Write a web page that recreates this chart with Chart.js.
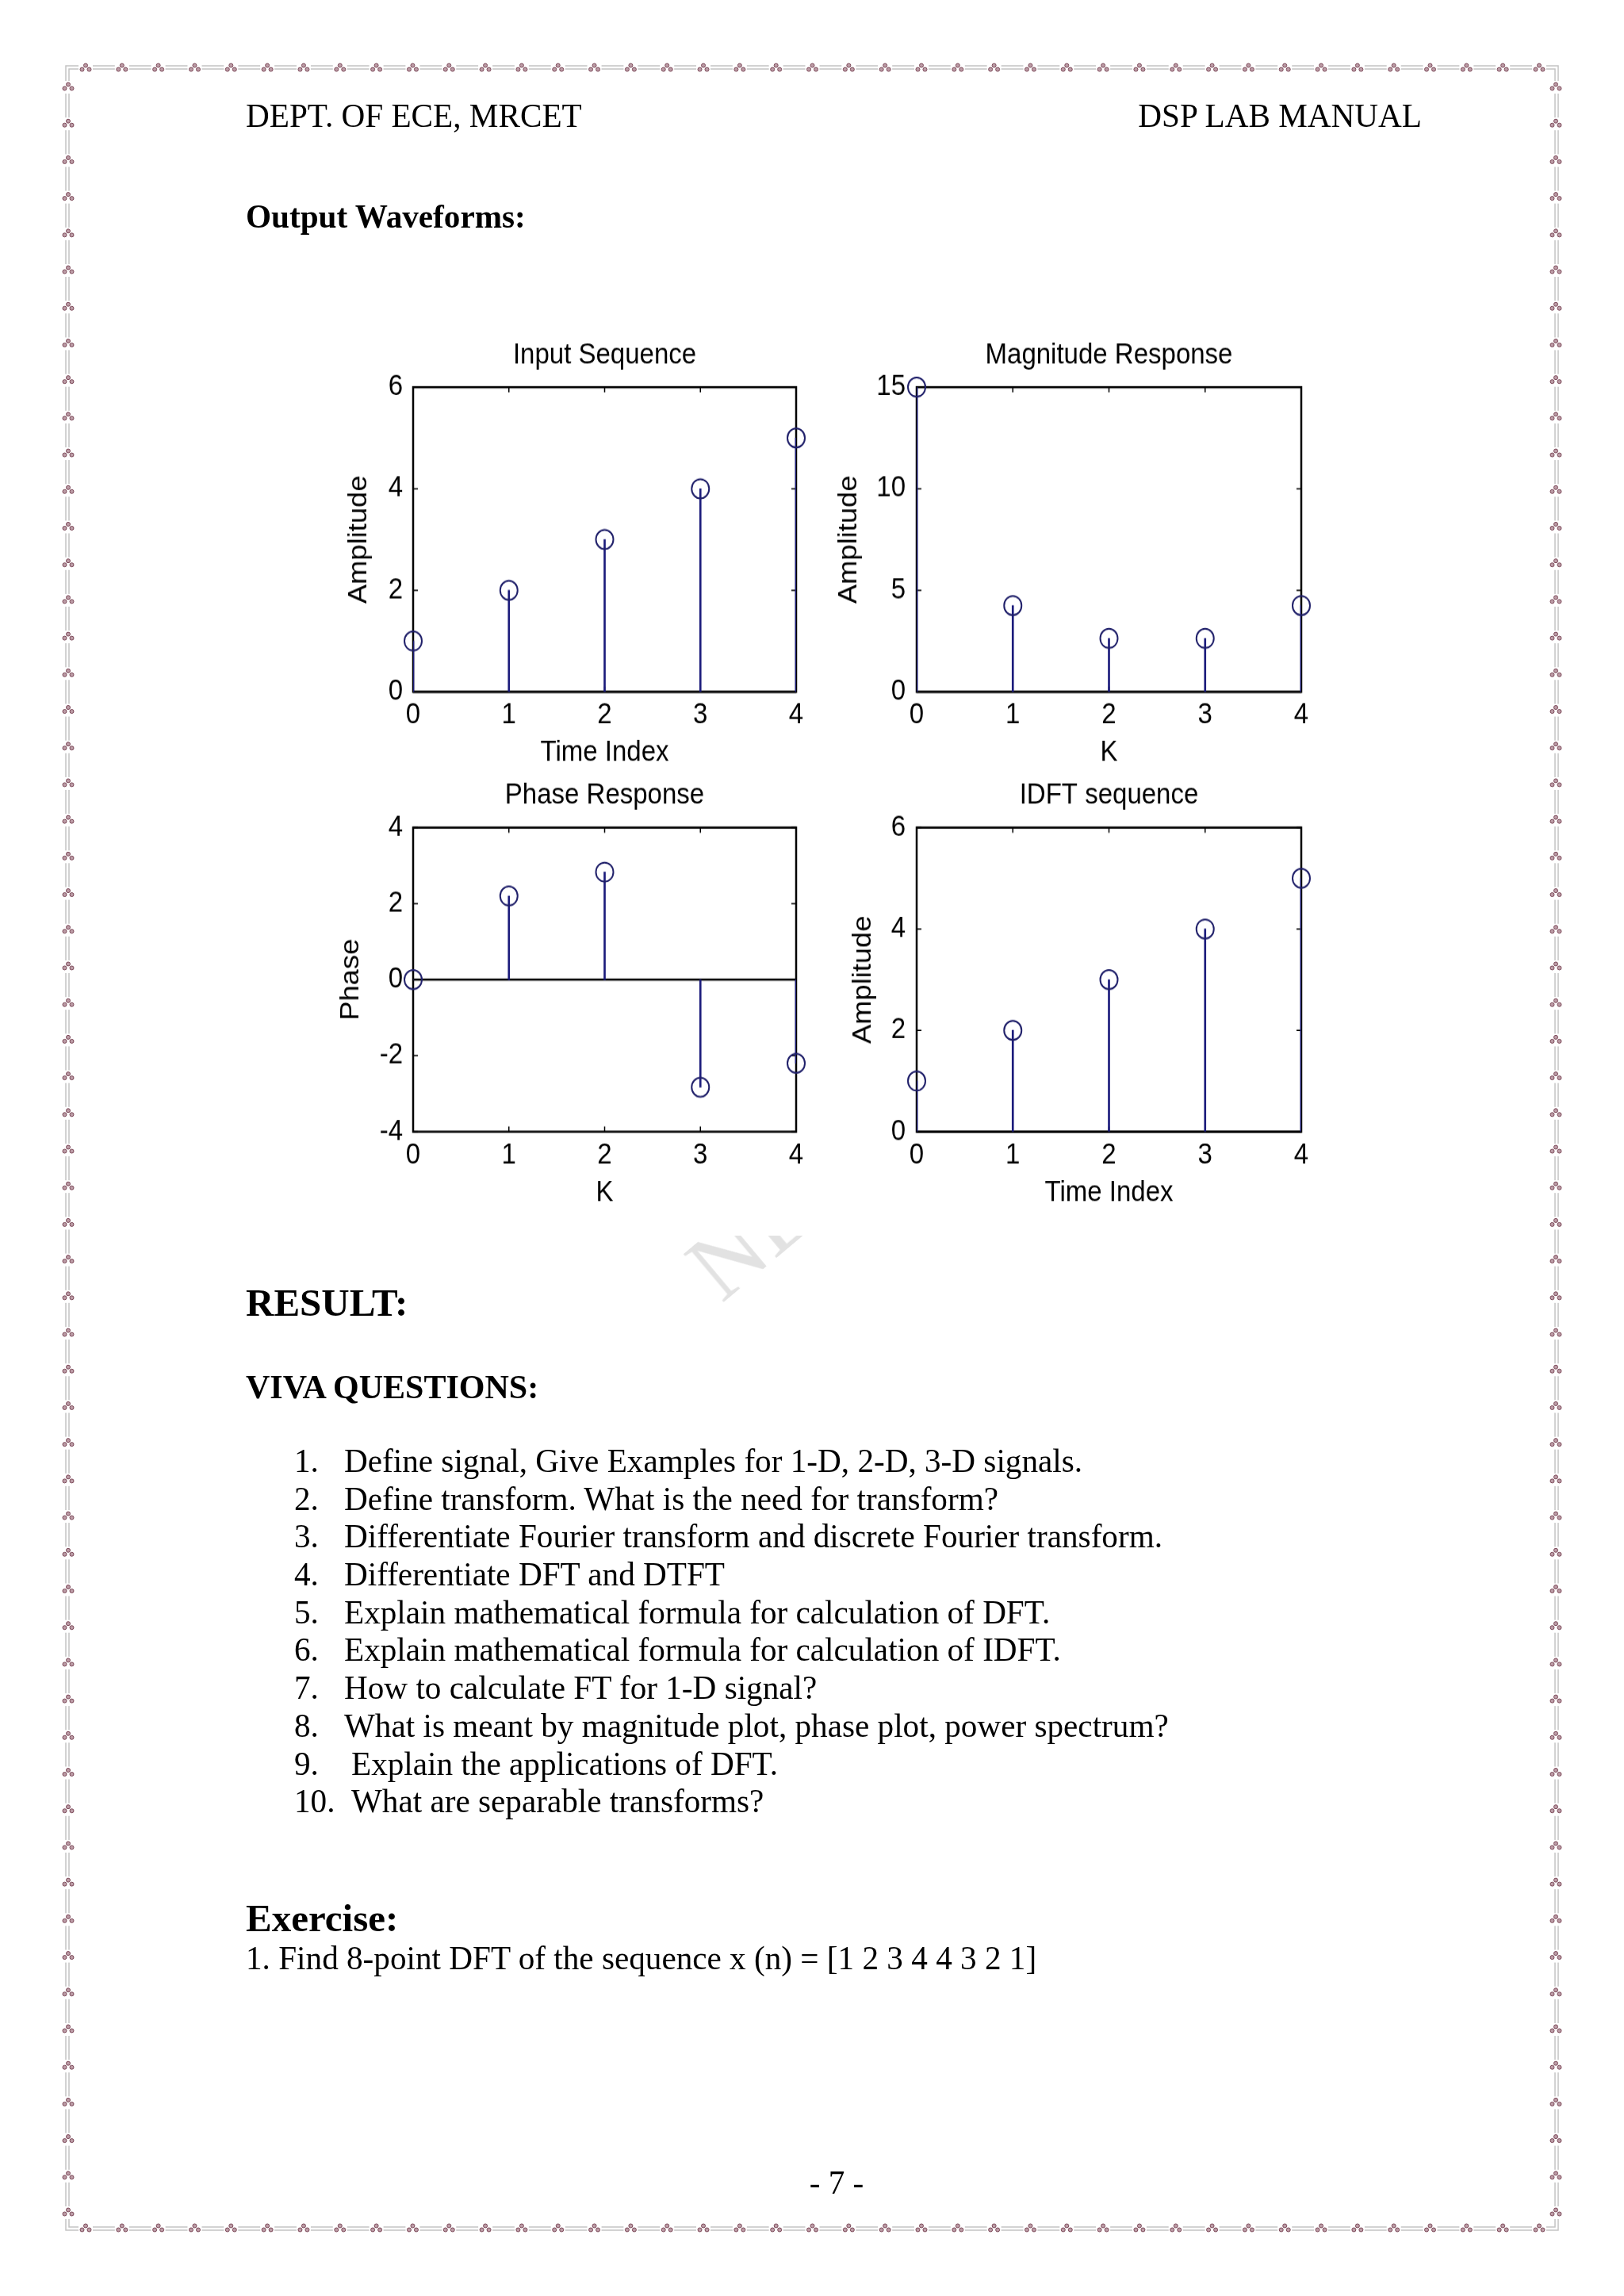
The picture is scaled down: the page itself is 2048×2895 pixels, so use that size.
<!DOCTYPE html>
<html>
<head>
<meta charset="utf-8">
<title>DSP LAB MANUAL - 7</title>
<script src="https://cdn.jsdelivr.net/npm/chart.js@4.4.1/dist/chart.umd.min.js"></script>
<style>
html, body { margin: 0; padding: 0; background: #fff; }
body { width: 2048px; height: 2895px; position: relative; overflow: hidden;
	font-family: 'Liberation Serif', 'Times New Roman', serif; color: #000; }
#border { position: absolute; left: 0; top: 0; z-index: 0; }
.txt { position: absolute; white-space: pre; font-size: 41.2px; line-height: 48px; z-index: 3; }
.b { font-weight: bold; }
.big { font-size: 49px; line-height: 56px; font-weight: bold; }
#wm { position: absolute; left: 910px; top: 1544px; font-size: 120px; line-height: 120px;
	color: #e2e2e2; white-space: pre; transform-origin: 0 100px; transform: rotate(-40deg); z-index: 1; }
#figure { position: absolute; left: 400px; top: 400px; width: 1290px; height: 1158px; background: #fff; z-index: 2; }
#figure canvas { position: absolute; }
#viva { position: absolute; left: 0; top: 1819px; width: 2048px; z-index: 3; }
#viva div { position: relative; height: 47.7px; line-height: 47.7px; font-size: 41.2px; white-space: pre; }
#viva span { position: absolute; }
</style>
</head>
<body>
<canvas id="border" width="2048" height="2895"></canvas>

<div class="txt" style="left:310px; top:122px;">DEPT. OF ECE, MRCET</div>
<div class="txt" style="right:255px; top:122px;">DSP LAB MANUAL</div>
<div class="txt b" style="left:310px; top:249px;">Output Waveforms:</div>

<div id="wm">NE</div>

<!-- 그림은 세로로 1.1배 늘어난 matlab 캡처라서 canvas를 css로 늘림 -->
<div id="figure">
	<canvas id="stem-input" width="640" height="525" style="left:0; top:0; width:640px; height:577.5px;"></canvas>
	<canvas id="stem-magnitude" width="640" height="525" style="left:640px; top:0; width:640px; height:577.5px;"></canvas>
	<canvas id="stem-phase" width="640" height="505" style="left:0; top:577.5px; width:640px; height:555.5px;"></canvas>
	<canvas id="stem-idft" width="640" height="505" style="left:640px; top:577.5px; width:640px; height:555.5px;"></canvas>
</div>

<div class="txt big" style="left:310px; top:1615px;">RESULT:</div>
<div class="txt b" style="left:310px; top:1725px; font-size:42px;">VIVA QUESTIONS:</div>

<div id="viva">
	<div><span style="left:371px">1.</span><span style="left:434px">Define signal, Give Examples for 1-D, 2-D, 3-D signals.</span></div>
	<div><span style="left:371px">2.</span><span style="left:434px">Define transform. What is the need for transform?</span></div>
	<div><span style="left:371px">3.</span><span style="left:434px">Differentiate Fourier transform and discrete Fourier transform.</span></div>
	<div><span style="left:371px">4.</span><span style="left:434px">Differentiate DFT and DTFT</span></div>
	<div><span style="left:371px">5.</span><span style="left:434px">Explain mathematical formula for calculation of DFT.</span></div>
	<div><span style="left:371px">6.</span><span style="left:434px">Explain mathematical formula for calculation of IDFT.</span></div>
	<div><span style="left:371px">7.</span><span style="left:434px">How to calculate FT for 1-D signal?</span></div>
	<div><span style="left:371px">8.</span><span style="left:434px">What is meant by magnitude plot, phase plot, power spectrum?</span></div>
	<div><span style="left:371px">9.</span><span style="left:443px">Explain the applications of DFT.</span></div>
	<div><span style="left:371px">10.</span><span style="left:443px">What are separable transforms?</span></div>
</div>

<div class="txt big" style="left:310px; top:2391px;">Exercise:</div>
<div class="txt" style="left:310px; top:2445px;">1. Find 8-point DFT of the sequence x (n) = [1 2 3 4 4 3 2 1]</div>
<div class="txt" style="left:955px; top:2728px; width:200px; text-align:center;">- 7 -</div>

<script>
// 데이터 (x = [1 2 3 4 5], N = 5)
var sampleIndex = ['0', '1', '2', '3', '4'];
var inputSeq = [1, 2, 3, 4, 5];
var magnitude = [15, 4.25, 2.63, 2.63, 4.25];
var phase = [0, 2.2, 2.83, -2.83, -2.2];
var idftSeq = [1, 2, 3, 4, 5];

var inputTicks = [0, 2, 4, 6];
var magTicks = [0, 5, 10, 15];
var phaseTicks = [-4, -2, 0, 2, 4];
var idftTicks = [0, 2, 4, 6];

var stemColor = '#1c1c7c';
var markColor = '#20206a';

Chart.defaults.font.family = "'Liberation Sans', Arial, sans-serif";
Chart.defaults.color = '#000';

// matlab 느낌의 박스 + 안쪽 눈금 + 기준선
var boxPlugin = {
	id: 'matlabBox',
	beforeDatasetsDraw: function(chart) {
		var ctx = chart.ctx, a = chart.chartArea;
		var xs = chart.scales.x, ys = chart.scales.y;
		ctx.save();
		ctx.strokeStyle = '#000';
		ctx.lineWidth = 2.5;
		ctx.strokeRect(a.left, a.top, a.right - a.left, a.bottom - a.top);
		var y0 = ys.getPixelForValue(0);
		ctx.beginPath();
		ctx.moveTo(a.left, y0);
		ctx.lineTo(a.right, y0);
		ctx.stroke();
		ctx.lineWidth = 1.5;
		ctx.beginPath();
		xs.ticks.forEach(function(t, i) {
			var px = xs.getPixelForTick(i);
			ctx.moveTo(px, a.bottom); ctx.lineTo(px, a.bottom - 6);
			ctx.moveTo(px, a.top); ctx.lineTo(px, a.top + 6);
		});
		ys.ticks.forEach(function(t, i) {
			var py = ys.getPixelForTick(i);
			ctx.moveTo(a.left, py); ctx.lineTo(a.left + 6, py);
			ctx.moveTo(a.right, py); ctx.lineTo(a.right - 6, py);
		});
		ctx.stroke();
		ctx.restore();
	}
};

function stemChart(id, o) {
	return new Chart(document.getElementById(id), {
		type: 'bar',
		data: {
			labels: sampleIndex,
			datasets: [{
				type: 'line',
				data: o.values,
				showLine: false,
				pointStyle: 'circle',
				pointRadius: 11,
				pointBorderWidth: 2,
				pointBorderColor: markColor,
				pointBackgroundColor: 'rgba(0,0,0,0)',
				clip: false,
				order: 0
			}, {
				type: 'bar',
				data: o.values,
				backgroundColor: stemColor,
				barThickness: 2,
				order: 1
			}]
		},
		options: {
			responsive: false,
			animation: false,
			events: [],
			layout: { padding: { left: 0, right: o.padRight, top: 0, bottom: 0 } },
			plugins: {
				legend: { display: false },
				tooltip: { enabled: false },
				title: {
					display: true,
					fullSize: false,
					text: o.title,
					color: '#000',
					font: { size: 33, weight: 'normal' },
					padding: { top: o.tTop, bottom: o.tBottom }
				}
			},
			scales: {
				x: {
					type: 'category',
					offset: false,
					grid: { display: false, drawTicks: false },
					border: { display: false },
					ticks: { font: { size: 33 }, padding: o.xTickPad, maxRotation: 0, autoSkip: false },
					title: { display: true, text: o.xTitle, font: { size: 33 }, padding: { top: 0, bottom: o.xTitlePad } },
					afterFit: function(s) { s.height = o.xHeight; }
				},
				y: {
					min: o.ticks[0],
					max: o.ticks[o.ticks.length - 1],
					grid: { display: false, drawTicks: false },
					border: { display: false },
					ticks: { stepSize: o.ticks[1] - o.ticks[0], font: { size: 33 }, padding: o.yTickPad },
					title: { display: true, text: o.yTitle, font: { size: 33 }, padding: { top: o.yTitlePad, bottom: 0 } },
					afterFit: function(s) { s.width = o.yWidth; }
				}
			}
		},
		plugins: [boxPlugin]
	});
}

stemChart('stem-input', {
	values: inputSeq, ticks: inputTicks, title: 'Input Sequence', xTitle: 'Time Index', yTitle: 'Amplitude',
	padRight: 36, yWidth: 121, xHeight: 96, tTop: 24, tBottom: 16.5,
	xTickPad: 7.5, xTitlePad: 6, yTickPad: 13, yTitlePad: 33
});
stemChart('stem-magnitude', {
	values: magnitude, ticks: magTicks, title: 'Magnitude Response', xTitle: 'K', yTitle: 'Amplitude',
	padRight: 39, yWidth: 116, xHeight: 96, tTop: 24, tBottom: 16.5,
	xTickPad: 7.5, xTitlePad: 6, yTickPad: 14, yTitlePad: 11
});
stemChart('stem-phase', {
	values: phase, ticks: phaseTicks, title: 'Phase Response', xTitle: 'K', yTitle: 'Phase',
	padRight: 36, yWidth: 121, xHeight: 96.5, tTop: 3, tBottom: 17,
	xTickPad: 8, xTitlePad: 6.5, yTickPad: 13, yTitlePad: 23
});
stemChart('stem-idft', {
	values: idftSeq, ticks: idftTicks, title: 'IDFT sequence', xTitle: 'Time Index', yTitle: 'Amplitude',
	padRight: 39, yWidth: 116, xHeight: 96.5, tTop: 3, tBottom: 17,
	xTickPad: 8, xTitlePad: 6.5, yTickPad: 14, yTitlePad: 29
});

// 페이지 테두리 (이중선 + 꽃무늬)
function drawBorder() {
	var ctx = document.getElementById('border').getContext('2d');
	var L = 83, T = 83, R = 1965, B = 2812;
	ctx.strokeStyle = '#c4c4c4';
	ctx.lineWidth = 1.5;
	ctx.strokeRect(L, T, R - L, B - T);
	ctx.strokeRect(L + 4, T + 4, R - L - 8, B - T - 8);

	function flower(x, y) {
		ctx.fillStyle = '#fff';
		ctx.fillRect(x - 9, y - 8, 18, 16);
		[[0, -3.5], [-4.5, 1.5], [4.5, 1.5]].forEach(function(p) {
			ctx.beginPath();
			ctx.arc(x + p[0], y + p[1], 2.5, 0, Math.PI * 2);
			ctx.fillStyle = '#bc9ca6';
			ctx.fill();
			ctx.strokeStyle = '#7a4656';
			ctx.lineWidth = 1;
			ctx.stroke();
		});
	}
	var i, n, step;
	n = Math.round((1941 - 108) / 46);
	step = (1941 - 108) / n;
	for (i = 0; i <= n; i++) {
		flower(108 + i * step, 86);
		flower(108 + i * step, B - 2);
	}
	n = Math.round((2790 - 110) / 46);
	step = (2790 - 110) / n;
	for (i = 0; i <= n; i++) {
		flower(L + 3, 110 + i * step);
		flower(R - 3, 110 + i * step);
	}
}
drawBorder();
</script>
</body>
</html>
